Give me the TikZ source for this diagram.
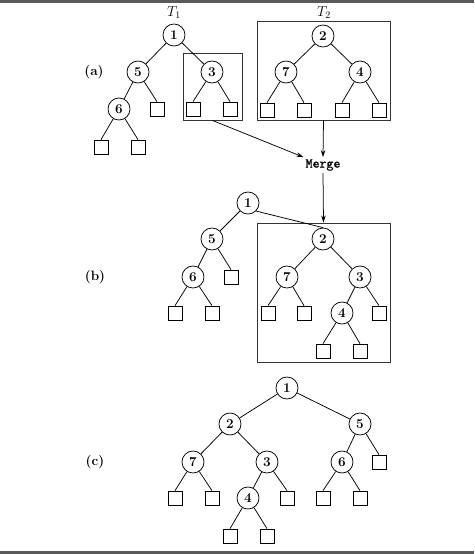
\documentclass[tikz,border=0pt]{standalone}
\usepackage{fontspec}
\setmainfont{Latin Modern Roman}
\newfontfamily\mergefont{Latin Modern Mono}[FakeBold=1.2]
\usetikzlibrary{arrows.meta}
\begin{document}
\begin{tikzpicture}[x=1pt,y=-1pt,
  inode/.style={circle,draw,line width=0.75pt,minimum size=22pt,inner sep=0pt,font=\fontsize{13.5}{15}\selectfont\bfseries},
  leaf/.style={rectangle,draw,line width=0.75pt,minimum size=14pt,inner sep=0pt},
  edge/.style={line width=0.75pt},
  frame/.style={draw=black!80,line width=0.9pt},
  lab/.style={font=\fontsize{13.5}{15}\selectfont\bfseries},
  arr/.style={line width=0.75pt,-{Stealth[length=7pt,width=4.5pt]}}]
\useasboundingbox (0,0) rectangle (474,554);
\fill[black!65] (0,0) rectangle (474,2.5);
\fill[black!65] (0,551) rectangle (474,554);
% (a)
\node[lab] (la) at (94,72) {(a)};
\node[font=\fontsize{14.5}{16}\selectfont] (t1) at (174,13) {$T_1$};
\node[font=\fontsize{14.5}{16}\selectfont] (t2) at (324,13) {$T_2$};
\node[frame,minimum width=59pt,minimum height=67pt,inner sep=0pt] (box3) at (212.5,86.5) {};
\node[frame,minimum width=133pt,minimum height=99pt,inner sep=0pt] (boxT2) at (323.5,70.5) {};
\node[inode] (a1) at (174,35) {1};
\node[inode] (a5) at (138,72) {5};
\node[inode] (a3) at (212,72) {3};
\node[inode] (a6) at (119,109) {6};
\node[leaf] (a5r) at (157,109) {};
\node[leaf] (a6l) at (101,147) {};
\node[leaf] (a6r) at (138,147) {};
\node[leaf] (a3l) at (193,109) {};
\node[leaf] (a3r) at (230,109) {};
\node[inode] (a2) at (323,36) {2};
\node[inode] (a7) at (286,72) {7};
\node[inode] (a4) at (360,72) {4};
\node[leaf] (a7l) at (267,110) {};
\node[leaf] (a7r) at (304,110) {};
\node[leaf] (a4l) at (342,110) {};
\node[leaf] (a4r) at (379,110) {};
\draw[edge] (a1)--(a5) (a1)--(a3) (a5)--(a6) (a5)--(a5r.north) (a6)--(a6l.north) (a6)--(a6r.north)
  (a3)--(a3l.north) (a3)--(a3r.north) (a2)--(a7) (a2)--(a4) (a7)--(a7l.north) (a7)--(a7r.north)
  (a4)--(a4l.north) (a4)--(a4r.north);
\node[font=\fontsize{13.5}{15}\selectfont\mergefont\bfseries,inner sep=2pt] (merge) at (323,165) {Merge};
\draw[arr] (box3.south) -- (merge.north west);
\draw[arr] (boxT2.south) -- (merge.north);
% (b)
\node[lab] (lb) at (95,277) {(b)};
\node[frame,minimum width=133pt,minimum height=139pt,inner sep=0pt] (boxb) at (323.5,292.5) {};
\draw[arr] (merge.south) -- (boxb.north);
\node[inode] (b1) at (248,203) {1};
\node[inode] (b5) at (212,239) {5};
\node[inode] (b2) at (323,239) {2};
\node[inode] (b6) at (193,277) {6};
\node[leaf] (b5r) at (231,277) {};
\node[leaf] (b6l) at (175,313) {};
\node[leaf] (b6r) at (212,313) {};
\node[inode] (b7) at (287,277) {7};
\node[inode] (b3) at (360,277) {3};
\node[leaf] (b7l) at (268,313) {};
\node[leaf] (b7r) at (304,313) {};
\node[inode] (b4) at (342,313) {4};
\node[leaf] (b3r) at (379,313) {};
\node[leaf] (b4l) at (323,351) {};
\node[leaf] (b4r) at (360,351) {};
\draw[edge] (b1)--(b5) (b1.south east)--(b2.north) (b5)--(b6) (b5)--(b5r.north) (b6)--(b6l.north) (b6)--(b6r.north)
  (b2)--(b7) (b2)--(b3) (b7)--(b7l.north) (b7)--(b7r.north) (b3)--(b4) (b3)--(b3r.north)
  (b4)--(b4l.north) (b4)--(b4r.north);
% (c)
\node[lab] (lc) at (95,462) {(c)};
\node[inode] (c1) at (287,388) {1};
\node[inode] (c2) at (230,424) {2};
\node[inode] (c5) at (360,424) {5};
\node[inode] (c7) at (193,462) {7};
\node[inode] (c3) at (267,462) {3};
\node[inode] (c6) at (342,462) {6};
\node[leaf] (c5r) at (379,462) {};
\node[leaf] (c7l) at (175,498) {};
\node[leaf] (c7r) at (212,498) {};
\node[inode] (c4) at (248,498) {4};
\node[leaf] (c3r) at (287,498) {};
\node[leaf] (c6l) at (323,498) {};
\node[leaf] (c6r) at (360,498) {};
\node[leaf] (c4l) at (230,536) {};
\node[leaf] (c4r) at (267,536) {};
\draw[edge] (c1)--(c2) (c1)--(c5) (c2)--(c7) (c2)--(c3) (c5)--(c6) (c5)--(c5r.north)
  (c7)--(c7l.north) (c7)--(c7r.north) (c3)--(c4) (c3)--(c3r.north) (c6)--(c6l.north) (c6)--(c6r.north)
  (c4)--(c4l.north) (c4)--(c4r.north);
\end{tikzpicture}
\end{document}
